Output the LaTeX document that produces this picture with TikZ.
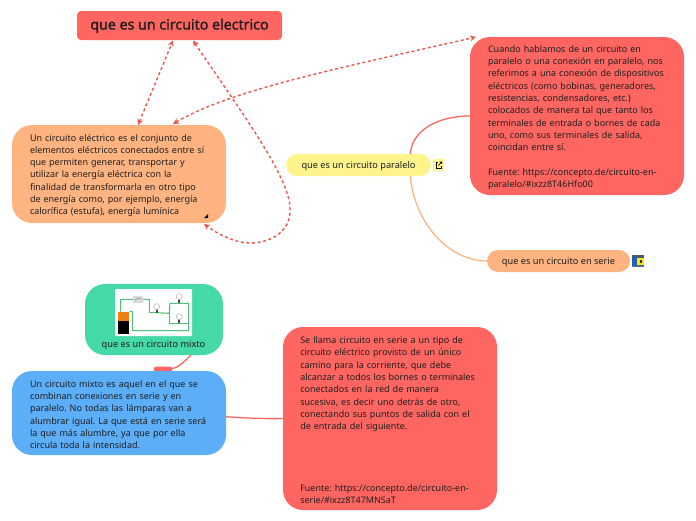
\documentclass[tikz,border=0pt]{standalone}
\usepackage{fontspec}
\setmainfont{Noto Sans}
\newfontfamily\titlefont{Noto Sans}[FakeBold=1.4]
\usetikzlibrary{arrows.meta,calc}
\definecolor{redbox}{HTML}{FF6661}
\definecolor{orangebox}{HTML}{FFB380}
\definecolor{yellowbox}{HTML}{FFF48C}
\definecolor{greenbox}{HTML}{45D9A8}
\definecolor{bluebox}{HTML}{5CAEF8}
\definecolor{dashline}{HTML}{E8584F}
\definecolor{wire}{HTML}{4CC275}
\definecolor{inktext}{HTML}{1E1E1E}
\definecolor{iconblue}{HTML}{1F5FB8}
\newcommand{\topfix}{\rule{0pt}{10pt}}
\tikzset{
  x=1pt,y=-1pt,
  box/.style={rounded corners=20pt,inner sep=0pt,outer sep=0pt,align=left,text=inktext,
    font=\fontsize{9}{12.3}\selectfont\frenchspacing},
  pill/.style={rounded corners=11pt,inner sep=0pt,outer sep=0pt,align=center,text=inktext,
    text height=8.5pt,text depth=1.5pt,font=\fontsize{9.2}{12.3}\selectfont},
  solidlink/.style={line width=1.3pt},
  dashlink/.style={dashline,line width=1.4pt,dash pattern=on 3pt off 2.6pt,
    {Stealth[length=6pt,width=6pt]}-{Stealth[length=6pt,width=6pt]}},
  wireline/.style={wire,line width=1.1pt},
}
\begin{document}
\begin{tikzpicture}
\useasboundingbox (0,0) rectangle (696,520);

\node[pill,fill=redbox,rounded corners=4pt,minimum width=205pt,minimum height=29pt,
  text height=11pt,text depth=3pt,font=\fontsize{14.2}{16}\selectfont\titlefont] (title) at (179.5,25.5) {que es un circuito electrico};

\node[box,fill=orangebox,minimum width=214pt,minimum height=98pt,text width=178pt] (def) at (119,174)
 {\topfix Un circuito eléctrico es el conjunto de\\elementos eléctricos conectados entre sí\\que permiten generar, transportar y\\utilizar la energía eléctrica con la\\finalidad de transformarla en otro tipo\\de energía como, por ejemplo, energía\\calorífica (estufa), energía lumínica};

\node[pill,fill=yellowbox,minimum width=145pt,minimum height=22pt] (par) at (358.5,165) {que es un circuito paralelo};

\node[box,fill=redbox,minimum width=214pt,minimum height=158pt,text width=178pt] (parinfo) at (577,116)
 {\topfix Cuando hablamos de un circuito en\\paralelo o una conexión en paralelo, nos\\referimos a una conexión de dispositivos\\eléctricos (como bobinas, generadores,\\resistencias, condensadores, etc.)\\colocados de manera tal que tanto los\\terminales de entrada o bornes de cada\\uno, como sus terminales de salida,\\coincidan entre sí.\\[12.3pt]Fuente: https://concepto.de/circuito-en-\\paralelo/\#ixzz8T46Hfo00};

\node[pill,fill=orangebox,minimum width=143pt,minimum height=22pt] (ser) at (558.5,261) {que es un circuito en serie};

\node[box,fill=greenbox,minimum width=138pt,minimum height=71pt] (mix) at (154,319.5) {};
\node[inner sep=0pt,text=inktext,text height=8.5pt,text depth=1.5pt,font=\fontsize{9.2}{12.3}\selectfont] (mixlabel) at (153.5,343.5) {que es un circuito mixto};

\node[box,fill=bluebox,minimum width=214pt,minimum height=84pt,text width=178pt] (mixinfo) at (119,413)
 {\topfix Un circuito mixto es aquel en el que se\\combinan conexiones en serie y en\\paralelo. No todas las lámparas van a\\alumbrar igual. La que está en serie será\\la que más alumbre, ya que por ella\\circula toda la intensidad.};

\node[box,fill=redbox,minimum width=214pt,minimum height=183pt,text width=179.5pt] (serinfo) at (390,418.5)
 {\topfix Se llama circuito en serie a un tipo de\\circuito eléctrico provisto de un único\\camino para la corriente, que debe\\alcanzar a todos los bornes o terminales\\conectados en la red de manera\\sucesiva, es decir uno detrás de otro,\\conectando sus puntos de salida con el\\de entrada del siguiente.\\[49.2pt]Fuente: https://concepto.de/circuito-en-\\serie/\#ixzz8T47MNSaT};

% small tab above the blue box
\fill[redbox,rounded corners=2pt] (154,366.5) rectangle (172,373);
\fill[bluebox] (150,371) rectangle (176,374);
\coordinate (tabend) at (171,369);

% connectors
\draw[redbox,solidlink] (par.12) .. controls (412,130) and (438,116) .. (parinfo.west);
\draw[orangebox,solidlink] (par.-12) .. controls (415,225) and (450,261) .. (ser.west);
\draw[redbox,solidlink] (mixinfo.-2) .. controls (245,418) and (265,419) .. (serinfo.west);
\draw[redbox,solidlink] ($(mix.south)+(37,0)$) .. controls (184,362) and (178,368) .. (tabend);

\draw[dashlink] ($(def.north)+(19,0)$) -- ($(title.south)+(-6.5,0.5)$);
\draw[dashlink] ($(def.north)+(54,-1)$) .. controls (230,90) and (340,68) .. ($(parinfo.north west)+(6,0)$);
\draw[dashlink] ($(title.south)+(13.5,0.5)$) .. controls (240,110) and (288,175) .. (290,207)
   .. controls (292,232) and (270,243) .. (250,243) .. controls (233,243) and (215,232) .. ($(def.south)+(85,1)$);

% corner mark of the definition box
\fill[black] (208,214) -- (208,218) -- (204,218) -- cycle;

% note icon beside the yellow node
\fill[yellowbox] (433,159) rectangle (444,171);
\draw[black,line width=0.6pt] (438,162.3) -- (436.2,162.3) -- (436.2,167.8) -- (441.4,167.8) -- (441.4,166);
\draw[black,line width=0.6pt] (438.4,165.6) -- (441,162.6);
\fill[black] (439.4,161.6) -- (442,161.6) -- (442,164.2) -- cycle;

% image icon beside the series node
\fill[iconblue] (632,255) rectangle (643.5,267) ;
\fill[gray!70!black] (632,255) rectangle (643.5,257);
\fill[yellow!90!orange] (637,258.3) rectangle (643.5,264.5);
\fill[black!80] (639.5,259.5) rectangle (641.5,263.3);
\fill[iconblue!60!gray] (632,265) rectangle (643.5,267);

% circuit picture in the green node
\fill[white,rounded corners=1pt] (115,289) rectangle (192,336);
\begin{scope}[shift={(70,280)},x=0.3333pt,y=-0.3333pt]
\draw[wireline] (152,95) -- (152,58) -- (238,58) -- (238,97) -- (298,100) -- (300,70) -- (356,70) -- (356,152) -- (187,152) -- (187,95) -- (178,95);
\draw[wireline] (298,100) -- (298,130) -- (356,130);
\fill[gray!30] (190,48) rectangle (218,68);
\draw[gray!70!black,line width=0.4pt] (195,58) -- (212,55);
\fill[orange!70!brown] (145,96) rectangle (178,122);
\fill[black] (145,122) rectangle (178,163);
\foreach \bx/\by in {328/50,260/80,328/110}{
  \fill[gray!60!black] (\bx-3,\by+6) rectangle (\bx+3,\by+20);
  \filldraw[fill=white,draw=gray!70,line width=0.4pt] (\bx,\by) circle (9);
}
\end{scope}
\end{tikzpicture}
\end{document}
